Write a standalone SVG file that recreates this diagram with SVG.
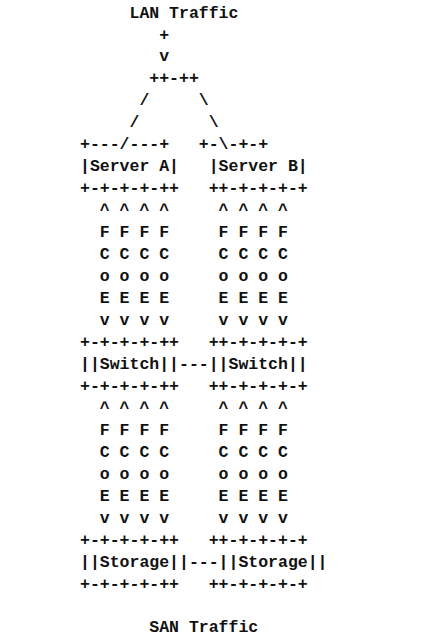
<svg xmlns="http://www.w3.org/2000/svg" width="443" height="641" viewBox="0 0 443 641" xml:space="preserve">
<style>
text{font-family:"Liberation Mono","DejaVu Sans Mono",monospace;font-size:16.5px;font-weight:bold;fill:#111;white-space:pre}
</style>
<rect width="443" height="641" fill="#fff"/>
<g id="label-lan"><text x="129.5" y="17.5">LAN Traffic</text></g>
<g id="connectors">
<text x="159.2" y="39.5">+</text>
<text x="159.2" y="61.4">v</text>
<text x="149.3" y="83.4">++-++</text>
<text x="139.4" y="105.3">/     \</text>
<text x="129.5" y="127.3">/       \</text>
<text x="99.8" y="215.1">^ ^ ^ ^     ^ ^ ^ ^</text>
<text x="99.8" y="237.1">F F F F     F F F F</text>
<text x="99.8" y="259.0">C C C C     C C C C</text>
<text x="99.8" y="281.0">o o o o     o o o o</text>
<text x="99.8" y="303.0">E E E E     E E E E</text>
<text x="99.8" y="324.9">v v v v     v v v v</text>
<text x="179" y="368.8">---</text>
<text x="99.8" y="412.7">^ ^ ^ ^     ^ ^ ^ ^</text>
<text x="99.8" y="434.7">F F F F     F F F F</text>
<text x="99.8" y="456.7">C C C C     C C C C</text>
<text x="99.8" y="478.6">o o o o     o o o o</text>
<text x="99.8" y="500.6">E E E E     E E E E</text>
<text x="99.8" y="522.6">v v v v     v v v v</text>
<text x="188.9" y="566.5">---</text>
</g>
<g id="server-a">
<text x="80" y="149.3">+---/---+</text>
<text x="80" y="171.2">|Server A|</text>
<text x="80" y="193.2">+-+-+-+-++</text>
</g>
<g id="server-b">
<text x="198.8" y="149.3">+-\-+-+</text>
<text x="208.7" y="171.2">|Server B|</text>
<text x="208.7" y="193.2">++-+-+-+-+</text>
</g>
<g id="switch-a">
<text x="80" y="346.9">+-+-+-+-++</text>
<text x="80" y="368.8">||Switch||</text>
<text x="80" y="390.8">+-+-+-+-++</text>
</g>
<g id="switch-b">
<text x="208.7" y="346.9">++-+-+-+-+</text>
<text x="208.7" y="368.8">||Switch||</text>
<text x="208.7" y="390.8">++-+-+-+-+</text>
</g>
<g id="storage-a">
<text x="80" y="544.5">+-+-+-+-++</text>
<text x="80" y="566.5">||Storage||</text>
<text x="80" y="588.5">+-+-+-+-++</text>
</g>
<g id="storage-b">
<text x="208.7" y="544.5">++-+-+-+-+</text>
<text x="218.6" y="566.5">||Storage||</text>
<text x="208.7" y="588.5">++-+-+-+-+</text>
</g>
<g id="label-san"><text x="149.3" y="632.4">SAN Traffic</text></g>
</svg>
